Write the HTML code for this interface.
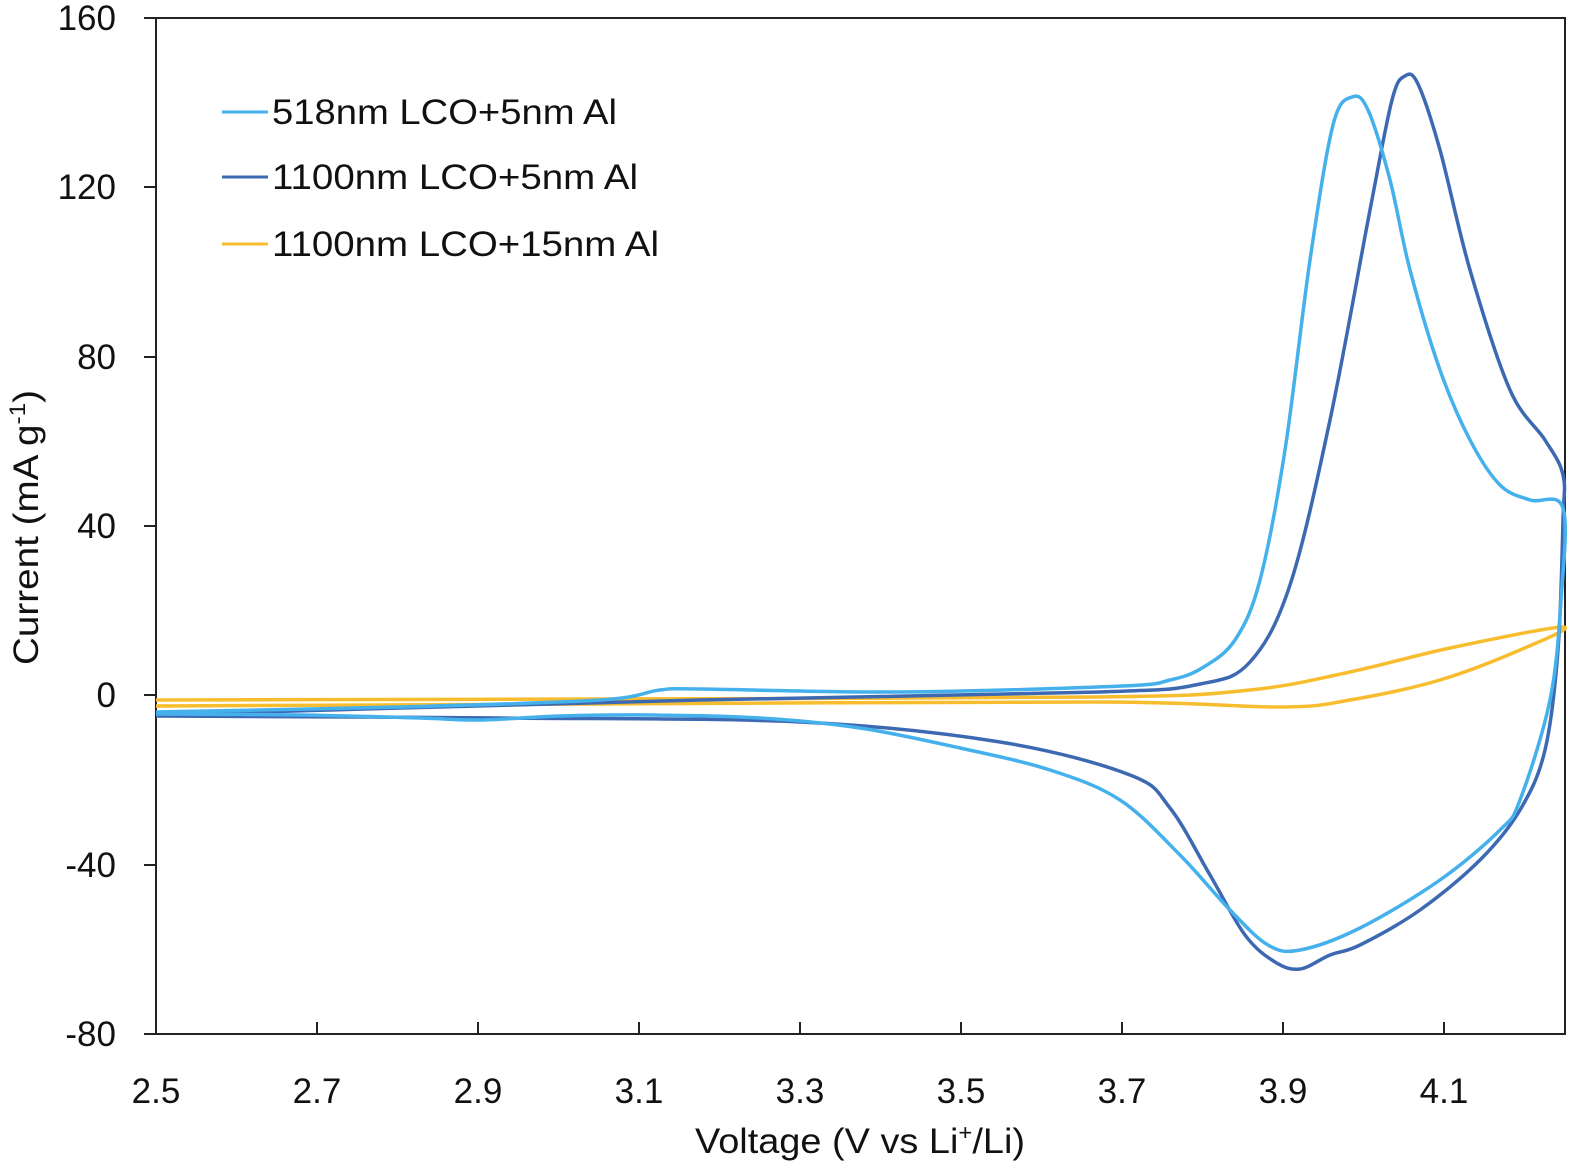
<!DOCTYPE html>
<html><head><meta charset="utf-8"><style>
html,body{margin:0;padding:0;background:#fff;}
svg{display:block;}
text{font-family:"Liberation Sans",sans-serif;fill:#111;}
</style></head><body>
<svg width="1570" height="1167" viewBox="0 0 1570 1167" xmlns="http://www.w3.org/2000/svg">
<rect x="0" y="0" width="1570" height="1167" fill="#fff"/>
<rect x="156" y="18" width="1409" height="1016" fill="none" stroke="#222" stroke-width="2"/>
<g stroke="#222" stroke-width="2">
<line x1="144" y1="18" x2="156" y2="18"/><line x1="144" y1="187" x2="156" y2="187"/>
<line x1="144" y1="357" x2="156" y2="357"/><line x1="144" y1="526" x2="156" y2="526"/>
<line x1="144" y1="695" x2="156" y2="695"/><line x1="144" y1="865" x2="156" y2="865"/>
<line x1="144" y1="1034" x2="156" y2="1034"/>
<line x1="317" y1="1022" x2="317" y2="1034"/><line x1="478" y1="1022" x2="478" y2="1034"/>
<line x1="639" y1="1022" x2="639" y2="1034"/><line x1="800" y1="1022" x2="800" y2="1034"/>
<line x1="961" y1="1022" x2="961" y2="1034"/><line x1="1122" y1="1022" x2="1122" y2="1034"/>
<line x1="1283" y1="1022" x2="1283" y2="1034"/><line x1="1444" y1="1022" x2="1444" y2="1034"/>
</g>
<g font-size="35" text-anchor="end">
<text x="116" y="30">160</text><text x="116" y="199">120</text><text x="116" y="369">80</text>
<text x="116" y="538">40</text><text x="116" y="707">0</text><text x="116" y="877">-40</text>
<text x="116" y="1046">-80</text>
</g>
<g font-size="35" text-anchor="middle">
<text x="156" y="1103">2.5</text><text x="317" y="1103">2.7</text><text x="478" y="1103">2.9</text>
<text x="639" y="1103">3.1</text><text x="800" y="1103">3.3</text><text x="961" y="1103">3.5</text>
<text x="1122" y="1103">3.7</text><text x="1283" y="1103">3.9</text><text x="1444" y="1103">4.1</text>
</g>
<text font-size="35" x="695" y="1153" textLength="330" lengthAdjust="spacingAndGlyphs">Voltage (V vs Li<tspan font-size="22" dy="-13">+</tspan><tspan dy="13">/Li)</tspan></text>
<text font-size="35" transform="translate(38,665) rotate(-90)" textLength="275" lengthAdjust="spacingAndGlyphs">Current (mA g<tspan font-size="22" dy="-13">-1</tspan><tspan dy="13">)</tspan></text>
<g fill="none" stroke-width="3.5" stroke-linejoin="round">
<path id="py" stroke="#f7bd2e"/>
<path id="pd" stroke="#3d69b2"/>
<path id="pl" stroke="#45b1ec"/>
</g>
<g stroke-width="3">
<line x1="222" y1="112" x2="268" y2="112" stroke="#45b1ec"/>
<line x1="222" y1="177" x2="268" y2="177" stroke="#3d69b2"/>
<line x1="222" y1="244" x2="268" y2="244" stroke="#f7bd2e"/>
</g>
<g font-size="35">
<text x="272" y="124" textLength="345" lengthAdjust="spacingAndGlyphs">518nm LCO+5nm Al</text>
<text x="272" y="189" textLength="366" lengthAdjust="spacingAndGlyphs">1100nm LCO+5nm Al</text>
<text x="272" y="256" textLength="387" lengthAdjust="spacingAndGlyphs">1100nm LCO+15nm Al</text>
</g>
</svg>
<script>
function sm(a){var p=[];for(var i=0;i<a.length;i+=2)p.push([a[i],a[i+1]]);
var d="M"+p[0][0]+","+p[0][1];
for(var i=0;i<p.length-1;i++){var p0=p[i-1]||p[i],p1=p[i],p2=p[i+1],p3=p[i+2]||p2;
var t=1/6;d+=" C"+(p1[0]+(p2[0]-p0[0])*t)+","+(p1[1]+(p2[1]-p0[1])*t)+" "+(p2[0]-(p3[0]-p1[0])*t)+","+(p2[1]-(p3[1]-p1[1])*t)+" "+p2[0]+","+p2[1];}
return d;}
document.getElementById("py").setAttribute("d",sm([156,700,600,699,1100,697,1250,690,1350,672,1450,648,1563,627,1520,650,1440,680,1350,700,1280,707,1100,702,600,704,156,706]));
document.getElementById("pd").setAttribute("d",sm([156,715,400,708,700,700,1100,692,1200,684,1250,662,1290,585,1330,420,1370,210,1392,100,1405,76,1418,84,1440,150,1470,270,1510,390,1545,440,1563,475,1563,520,1558,650,1545,750,1520,810,1480,860,1420,910,1360,945,1330,955,1300,969,1275,962,1245,935,1210,875,1170,808,1130,775,1000,742,800,722,500,718,156,716]));
document.getElementById("pl").setAttribute("d",sm([156,712,400,707,600,700,660,690,700,689,900,692,1122,686,1170,680,1202,668,1235,640,1260,580,1285,450,1310,260,1333,125,1352,97,1368,110,1390,180,1410,270,1440,370,1470,440,1500,485,1530,500,1563,508,1561,600,1550,700,1520,800,1500,830,1440,880,1360,928,1300,950,1268,945,1230,910,1180,855,1120,800,1050,770,960,748,860,728,760,718,650,715,560,716,480,720,420,718,300,715,156,714]));
</script>
</body></html>
